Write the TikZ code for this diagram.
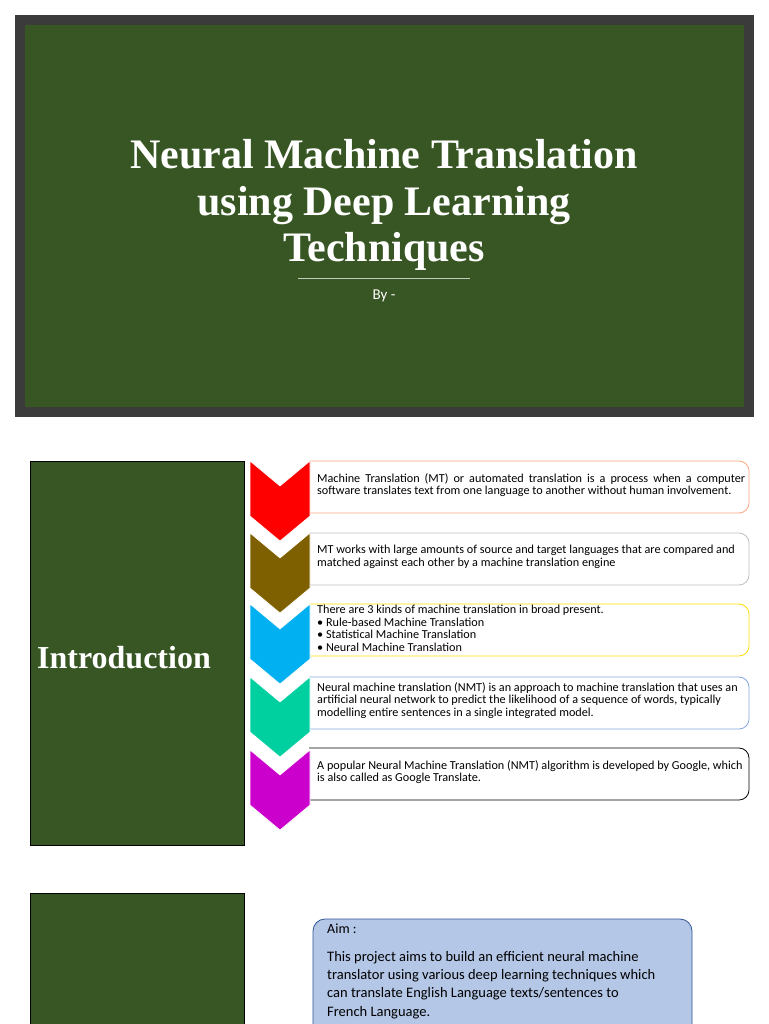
\documentclass[tikz,border=0pt]{standalone}
\usepackage{fontspec}
\setmainfont{Carlito}
\newfontfamily\titlefont{Liberation Serif}
\begin{document}
\begin{tikzpicture}[x=1pt,y=-1pt]
\definecolor{frame}{HTML}{3B3B3B}
\definecolor{grn}{HTML}{375623}
\definecolor{aimfill}{HTML}{B4C7E7}
\definecolor{aimdraw}{HTML}{2F5597}
\definecolor{cbrown}{HTML}{7F6000}
\definecolor{cblue}{HTML}{00B0F0}
\definecolor{cteal}{HTML}{00D0A0}
\definecolor{cpurple}{HTML}{CC00CC}
\tikzset{
 chev/.style={draw=white,line width=0.6pt},
 tbox/.style={line width=0.8pt,fill=white},
 btext/.style={anchor=north west,font=\fontsize{12.2}{12.5}\selectfont,align=left,inner sep=0pt},
 gbox/.style={fill=grn,draw=black,line width=0.6pt}
}
\useasboundingbox (0,0) rectangle (768,1024);
\fill[white] (0,0) rectangle (768,1024);
\fill[frame] (15,15) rectangle (754,417);
\fill[grn] (25,25) rectangle (744,407);
\node[text=white,font=\titlefont\bfseries\fontsize{42}{46.5}\selectfont,align=center] (title) at (384,205) {Neural Machine Translation\\using Deep Learning\\Techniques};
\draw[white!70!grn,line width=0.8pt] (298,278) -- (470,278);
\node[text=white,font=\fontsize{15}{18}\selectfont] (by) at (384,296) {By -};
% intro
\draw[gbox] (30,461) rectangle (244,845);
\node[text=white,font=\titlefont\bfseries\fontsize{32}{34}\selectfont] (intro) at (124,658) {Introduction};
\newcommand{\chevron}[3]{%
 \fill[#2,chev] (250,#1) -- (280,#1+25) -- (310,#1) -- (310,#1+55) -- (280,#1+80) -- (250,#1+55) -- cycle;
 \node[inner sep=0pt] (#3) at (280,#1+40) {};}
\newcommand{\tbox}[3]{%
 \draw[tbox,draw=#2] (309,#1) -- (739,#1) arc[start angle=-90,end angle=0,radius=10] -- (749,#1+42) arc[start angle=0,end angle=90,radius=10] -- (309,#1+52);
 \coordinate (#3) at (309,#1);}
\tbox{461}{orange!60!red!50!white}{b1}
\tbox{533}{gray!50}{b2}
\tbox{604}{yellow!80!orange}{b3}
\tbox{677}{cyan!50!blue!50}{b4}
\tbox{748}{black}{b5}
\chevron{461}{red}{c1}
\chevron{533}{cbrown}{c2}
\chevron{604}{cblue}{c3}
\chevron{677}{cteal}{c4}
\chevron{750}{cpurple}{c5}
\node[btext,text width=428pt,align=justify] (t1) at (317,473) {Machine Translation (MT) or automated translation is a process when a computer\linebreak software translates text from one language to another without human involvement.};
\node[btext] (t2) at (317,545) {MT works with large amounts of source and target languages that are compared and\\matched against each other by a machine translation engine};
\node[btext] (t3) at (317,605) {There are 3 kinds of machine translation in broad present.\\\textbullet\ Rule-based Machine Translation\\\textbullet\ Statistical Machine Translation\\\textbullet\ Neural Machine Translation};
\node[btext] (t4) at (317,682) {Neural machine translation (NMT) is an approach to machine translation that uses an\\artificial neural network to predict the likelihood of a sequence of words, typically\\modelling entire sentences in a single integrated model.};
\node[btext] (t5) at (317,760) {A popular Neural Machine Translation (NMT) algorithm is developed by Google, which\\is also called as Google Translate.};
% bottom
\draw[gbox] (30,893) rectangle (244,1030);
\draw[fill=aimfill,draw=aimdraw,line width=0.8pt,rounded corners=12pt] (313,1040) -- (313,919) -- (692,919) -- (692,1040);
\node[btext,font=\fontsize{14}{18}\selectfont] (aim) at (327,924) {Aim :};
\node[btext,font=\fontsize{14.5}{18.3}\selectfont] (aimt) at (327,951) {This project aims to build an efficient neural machine\\translator using various deep learning techniques which\\can translate English Language texts/sentences to\\French Language.};
\end{tikzpicture}
\end{document}
